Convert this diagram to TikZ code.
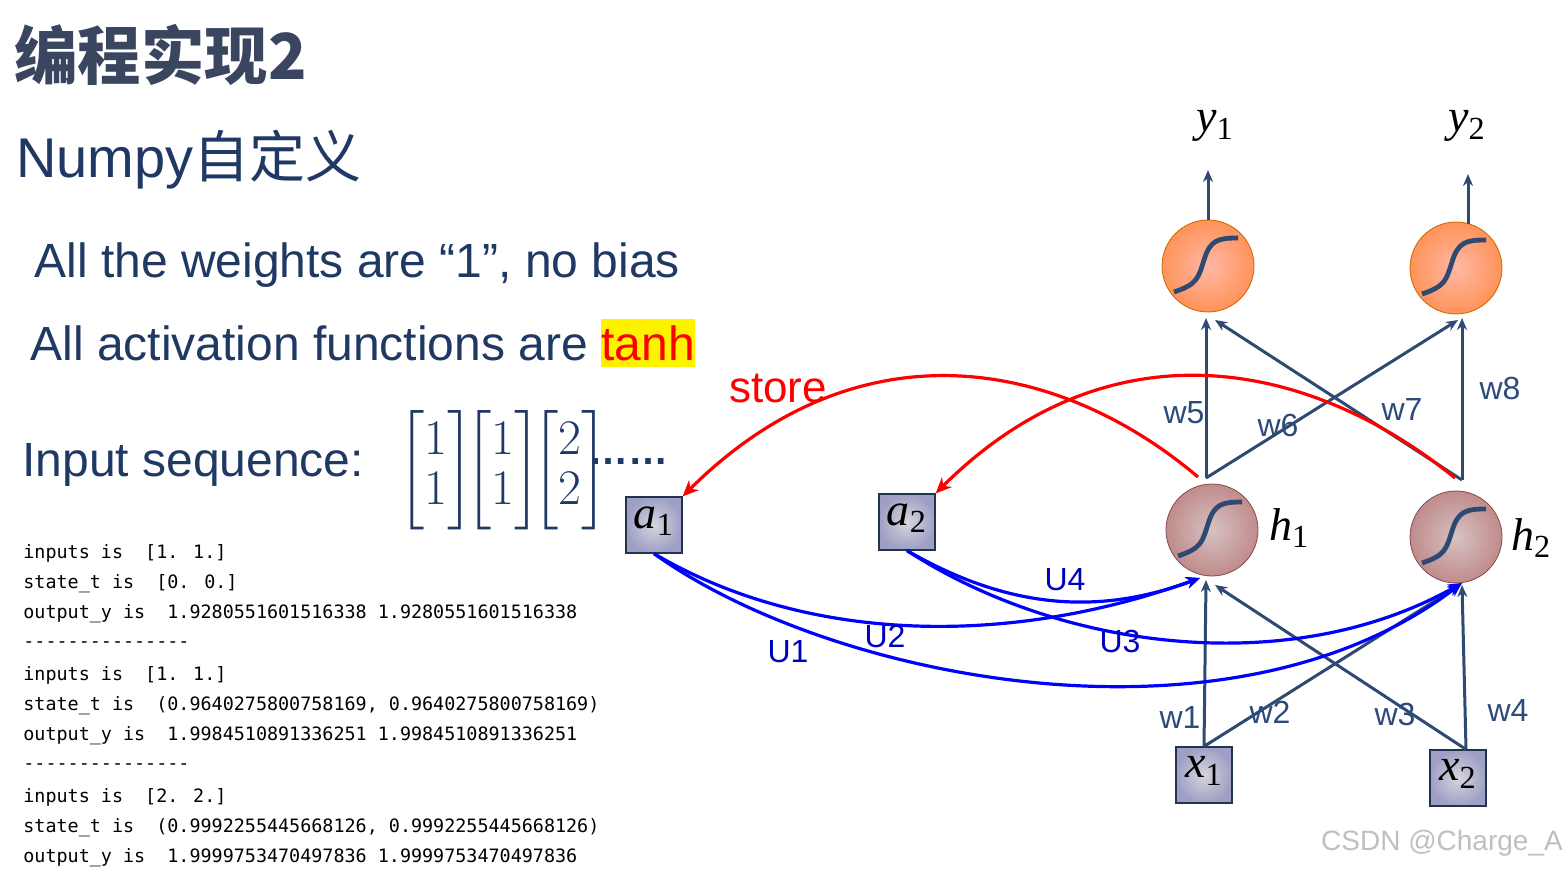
\documentclass[tikz,border=0pt]{standalone}
\usepackage{amsmath}
\usepackage{fontspec}
\setmainfont{Liberation Sans}
\newfontfamily\cjk{Noto Sans CJK SC}
\newfontfamily\codefont{DejaVu Sans Mono}
\newfontfamily\mathserif{Liberation Serif}
\usetikzlibrary{arrows.meta,calc}
\definecolor{navy}{HTML}{1F3864}
\definecolor{titlec}{HTML}{3A4660}
\definecolor{edge}{HTML}{2E4A72}
\definecolor{wlab}{HTML}{2E4A7A}
\tikzset{
 box/.style={draw=edge!70!black,inner color=blue!10!gray!30,outer color=blue!25!gray!60,minimum size=28pt,inner sep=0pt,line width=0.6pt},
 outc/.style={circle,draw=orange!80!black,inner color=orange!40!red!35,outer color=orange!70!red!65,minimum size=46pt,inner sep=0pt},
 hidc/.style={circle,draw=red!30!black!70,inner color=red!20!gray!40,outer color=red!30!gray!70,minimum size=46pt,inner sep=0pt},
 conn/.style={draw=edge,line width=1.5pt,-{Stealth[length=6pt,width=5pt]}},
 redc/.style={draw=red,line width=1.6pt,-{Stealth[length=8pt,width=7pt]}},
 bluec/.style={draw=blue,line width=1.6pt,-{Stealth[length=7pt,width=6pt]}},
 wl/.style={text=wlab,font=\fontsize{16}{18}\selectfont},
 mathl/.style={font=\mathserif\itshape\fontsize{23}{24}\selectfont},
 code/.style={anchor=west,font=\codefont\fontsize{9.2}{10}\selectfont,inner sep=0pt}
}
\newcommand{\sig}[1]{\draw[edge,line width=2.4pt] ($(#1)+(-34,26)$) .. controls ($(#1)+(-10,18)$) and ($(#1)+(-10,12)$) .. ($(#1)+(-4,-6)$) .. controls ($(#1)+(2,-26)$) and ($(#1)+(10,-28)$) .. ($(#1)+(30,-28)$);}
\newcommand{\mcol}[2]{\left[\begin{array}{@{}c@{}}#1\\#2\end{array}\right]}
\begin{document}
\begin{tikzpicture}[x=0.5pt,y=-0.5pt]
\useasboundingbox (0,0) rectangle (1566,870);
\node[anchor=west,text=titlec,font=\cjk\bfseries\fontsize{31.7}{33}\selectfont,inner sep=0pt] (title) at (14,55) {编程实现2};
\node[anchor=west,text=navy,font=\fontsize{28}{30}\selectfont,inner sep=0pt] (np) at (16,160) {Numpy{\cjk 自定义}};
\node[anchor=west,text=navy,font=\fontsize{24}{26}\selectfont,inner sep=0pt] (t1) at (34,265) {All the weights are “1”, no bias};
\node[anchor=west,text=navy,font=\fontsize{24}{26}\selectfont,inner sep=0pt] (t2) at (30,343) {All activation functions are \colorbox{yellow}{\hspace{-3pt}\textcolor{red}{tanh}\hspace{-3pt}}};
\node[anchor=west,text=navy,font=\fontsize{24}{26}\selectfont,inner sep=0pt] (t3) at (22,465) {Input sequence:};
\node[anchor=west,text=navy,inner sep=0pt,font=\fontsize{24}{25}\selectfont] (mat) at (398,470) {$\mcol{1}{1}\!\!\mcol{1}{1}\!\!\mcol{2}{2}$};
\node[anchor=west,text=navy,inner sep=0pt,font=\fontsize{20}{22}\selectfont] (dots) at (588,462) {\textbf{……}};
\foreach \t [count=\i] in {inputs is~~[1. 1.],state\_t is~~[0. 0.],output\_y is~~1.9280551601516338 1.9280551601516338,---------------,inputs is~~[1. 1.],{state\_t is~~(0.9640275800758169, 0.9640275800758169)},output\_y is~~1.9984510891336251 1.9984510891336251,---------------,inputs is~~[2. 2.],{state\_t is~~(0.9992255445668126, 0.9992255445668126)},output\_y is~~1.9999753470497836 1.9999753470497836}
 \node[code] (c\i) at (23,{553+30.5*(\i-1)}) {\t};
\node[box] (a1) at (654,525) {};
\node[mathl] at (654,521) {a\textsubscript{\upshape 1}};
\node[box] (a2) at (907,522) {};
\node[mathl] at (907,518) {a\textsubscript{\upshape 2}};
\node[box] (x1) at (1204,775) {};
\node[mathl] at (1204,771) {x\textsubscript{\upshape 1}};
\node[box] (x2) at (1458,778) {};
\node[mathl] at (1458,774) {x\textsubscript{\upshape 2}};
\node[hidc] (h1) at (1212,530) {};
\node[hidc] (h2) at (1456,537) {};
\node[outc] (o1) at (1208,266) {};
\node[outc] (o2) at (1456,268) {};
\sig{h1}\sig{h2}\sig{o1}\sig{o2}
\node[mathl,anchor=west] (hl1) at (1262,528) {h\textsubscript{\upshape 1}};
\node[mathl,anchor=west] (hl2) at (1504,538) {h\textsubscript{\upshape 2}};
\node[mathl] (y1) at (1215,126) {y\textsubscript{\upshape 1}};
\node[mathl] (y2) at (1467,126) {y\textsubscript{\upshape 2}};
\coordinate (y1a) at (1208,170);
\coordinate (y2a) at (1468,174);
\draw[conn] (o1.north) -- (y1a);
\draw[conn] ($(o2.north)+(12,2)$) -- (y2a);
\draw[conn] (x1.north) -- (1206,580);
\draw[conn] (x1.north) -- (1460,585);
\draw[conn] ([xshift=4pt]x2.north) -- (1462,585);
\draw[conn] ([xshift=4pt]x2.north) -- (1215,585);
\draw[conn] (1206,478) -- (1206,318);
\draw[conn] (1206,478) -- (1458,320);
\draw[conn] (1462,480) -- (1462,318);
\draw[conn] (1462,480) -- (1215,320);
\node[wl] at (1180,717) {w1};
\node[wl] at (1270,712) {w2};
\node[wl] at (1395,714) {w3};
\node[wl] at (1508,710) {w4};
\node[wl] at (1184,413) {w5};
\node[wl] at (1278,425) {w6};
\node[wl] at (1402,409) {w7};
\node[wl] at (1500,388) {w8};
\draw[redc] (1198,477) .. controls (1060,360) and (860,320) .. (a1.north east);
\draw[redc] (1455,478) .. controls (1310,360) and (1110,320) .. (a2.north east);
\node[text=red,font=\fontsize{22}{24}\selectfont] (store) at (778,388) {store};
\draw[bluec] (a1.south) .. controls (800,640) and (1000,650) .. (1200,578);
\draw[bluec] (a1.south) .. controls (830,680) and (1230,760) .. (1462,583);
\draw[bluec] (a2.south) .. controls (1010,610) and (1100,615) .. (1200,578);
\draw[bluec] (a2.south) .. controls (1060,650) and (1290,680) .. (1462,583);
\node[text=blue!75!black,font=\fontsize{16}{18}\selectfont] at (788,652) {U1};
\node[text=blue!75!black,font=\fontsize{16}{18}\selectfont] at (885,636) {U2};
\node[text=blue!75!black,font=\fontsize{16}{18}\selectfont] at (1120,641) {U3};
\node[text=blue!75!black,font=\fontsize{16}{18}\selectfont] at (1065,580) {U4};
\node[text=gray!50,font=\fontsize{14}{16}\selectfont] (wm) at (1442,843) {CSDN @Charge\_A};
\end{tikzpicture}
\end{document}
